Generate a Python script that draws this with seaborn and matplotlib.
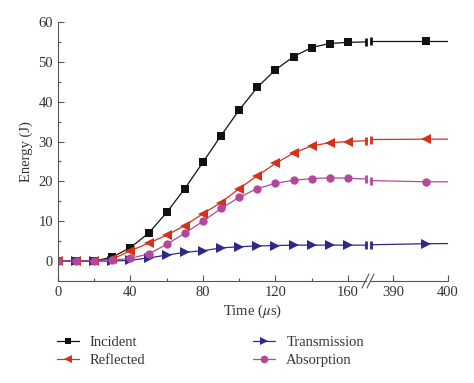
import numpy as np
import pandas as pd
import matplotlib
matplotlib.use("Agg")
import matplotlib.pyplot as plt
import seaborn as sns
from matplotlib.lines import Line2D
from matplotlib.ticker import MultipleLocator

sns.set_style("ticks")
plt.rcParams['font.family'] = ['Liberation Serif', 'DejaVu Serif']
plt.rcParams['mathtext.fontset'] = 'stix'

# Data
time_left = [0, 10, 20, 30, 40, 50, 60, 70, 80, 90, 100, 110, 120, 130, 140, 150, 160, 170]
time_right = [386, 396, 400]
series = ["Incident", "Reflected", "Transmission", "Absorption"]

incident_l = [0, 0, 0, 1.0, 3.4, 7.0, 12.2, 18.2, 24.8, 31.5, 37.9, 43.6, 48.0, 51.3, 53.6, 54.6, 54.9, 55.0]
reflected_l = [0, 0, 0, 0.5, 2.6, 4.5, 6.5, 8.9, 11.9, 14.7, 18.2, 21.4, 24.5, 27.1, 28.9, 29.7, 30.0, 30.2]
transmission_l = [0, 0, 0, 0.0, 0.2, 0.8, 1.5, 2.2, 2.6, 3.3, 3.6, 3.8, 3.9, 4.0, 4.0, 4.0, 4.0, 4.0]
absorption_l = [0, 0, 0, 0.2, 0.7, 1.8, 4.2, 7.0, 10.0, 13.2, 16.0, 18.2, 19.5, 20.3, 20.7, 20.9, 20.8, 20.6]

incident_r = [55.2, 55.2, 55.2]
reflected_r = [30.5, 30.6, 30.6]
transmission_r = [4.1, 4.35, 4.4]
absorption_r = [20.2, 19.9, 19.9]

colors = {"Incident": "#111111", "Reflected": "#d4311c",
          "Transmission": "#2c2a88", "Absorption": "#b4479c"}
markers = {"Incident": "s", "Reflected": "<", "Transmission": ">", "Absorption": "o"}
msizes = {"Incident": 5.5, "Reflected": 6.5, "Transmission": 6.5, "Absorption": 6.0}

left = pd.DataFrame({"Time": time_left * 4,
                     "Energy": incident_l + reflected_l + transmission_l + absorption_l,
                     "Series": np.repeat(series, len(time_left))})
right = pd.DataFrame({"Time": time_right * 4,
                      "Energy": incident_r + reflected_r + transmission_r + absorption_r,
                      "Series": np.repeat(series, len(time_right))})

fig = plt.figure(figsize=(4.74, 3.83), dpi=100)
ax1 = fig.add_axes([58 / 474, 1 - 281 / 383, (366 - 58) / 474, (281 - 22) / 383])
ax2 = fig.add_axes([371 / 474, 1 - 281 / 383, (448 - 371) / 474, (281 - 22) / 383])

for ax, df in [(ax1, left), (ax2, right)]:
    sns.lineplot(data=df, x="Time", y="Energy", hue="Series", style="Series",
                 palette=colors, markers=markers, dashes=False, ax=ax,
                 linewidth=0.9, markersize=6.0, markeredgewidth=0,
                 legend=False, sort=False)
    ax.set_ylim(-5, 60)
    ax.spines['top'].set_visible(False)
    ax.spines['right'].set_visible(False)
    for s in ['left', 'bottom']:
        ax.spines[s].set_color('#555555')
        ax.spines[s].set_linewidth(0.8)
    ax.tick_params(direction='in', length=4, width=0.8, color='#555555',
                   labelsize=10.5, labelcolor='#333333')
    ax.tick_params(which='minor', direction='in', length=2, width=0.8, color='#555555')
    ax.set_xlabel("")
    ax.set_ylabel("")

# marker sizes per series, skip markers at the break ends
for line, s in zip(ax1.get_lines(), series):
    line.set_markersize(msizes[s])
    line.set_markevery(list(range(len(time_left) - 1)))
for line, s in zip(ax2.get_lines(), series):
    line.set_markersize(msizes[s])
    line.set_markevery([1])

# short bars at the break ends of each curve
for s, yl, yr in zip(series, [incident_l, reflected_l, transmission_l, absorption_l],
                     [incident_r, reflected_r, transmission_r, absorption_r]):
    ax1.plot([time_left[-1]], [yl[-1]], marker='|', color=colors[s], markersize=6,
             markeredgewidth=2, clip_on=False)
    ax2.plot([time_right[0]], [yr[0]], marker='|', color=colors[s], markersize=6,
             markeredgewidth=2, clip_on=False)

ax1.set_xlim(0, 170)
ax1.xaxis.set_major_locator(MultipleLocator(40))
ax1.xaxis.set_minor_locator(MultipleLocator(20))
ax1.yaxis.set_major_locator(MultipleLocator(10))
ax1.yaxis.set_minor_locator(MultipleLocator(5))
ax1.set_ylabel("Energy (J)", fontsize=10.5, color='#333333')

ax2.set_xlim(386, 400)
ax2.set_xticks([390, 400])
ax2.spines['left'].set_visible(False)
ax2.tick_params(axis='y', left=False, labelleft=False)
ax2.tick_params(axis='x', which='minor', bottom=False)

fig.text(253 / 474, 1 - 311 / 383, r"Time ($\mu$s)", ha='center', va='center',
         fontsize=10.5, color='#333333')

# break marks
yb = 1 - 281 / 383
for x0 in [362, 367]:
    fig.add_artist(Line2D([x0 / 474, (x0 + 7) / 474], [yb - 7 / 383, yb + 7 / 383],
                          color='#555555', linewidth=0.8))

handles = [Line2D([], [], color=colors[s], marker=markers[s], markersize=msizes[s] - 0.5,
                  markeredgewidth=0, linewidth=0.9) for s in series]
fig.legend(handles, series, ncol=2, loc='upper left',
           bbox_to_anchor=(44 / 474, 1 - 323 / 383), frameon=False,
           fontsize=10.5, handlelength=1.5, columnspacing=7.4,
           labelspacing=0.3, handletextpad=0.75, labelcolor='#333333')

fig.savefig("out.png", dpi=100)
